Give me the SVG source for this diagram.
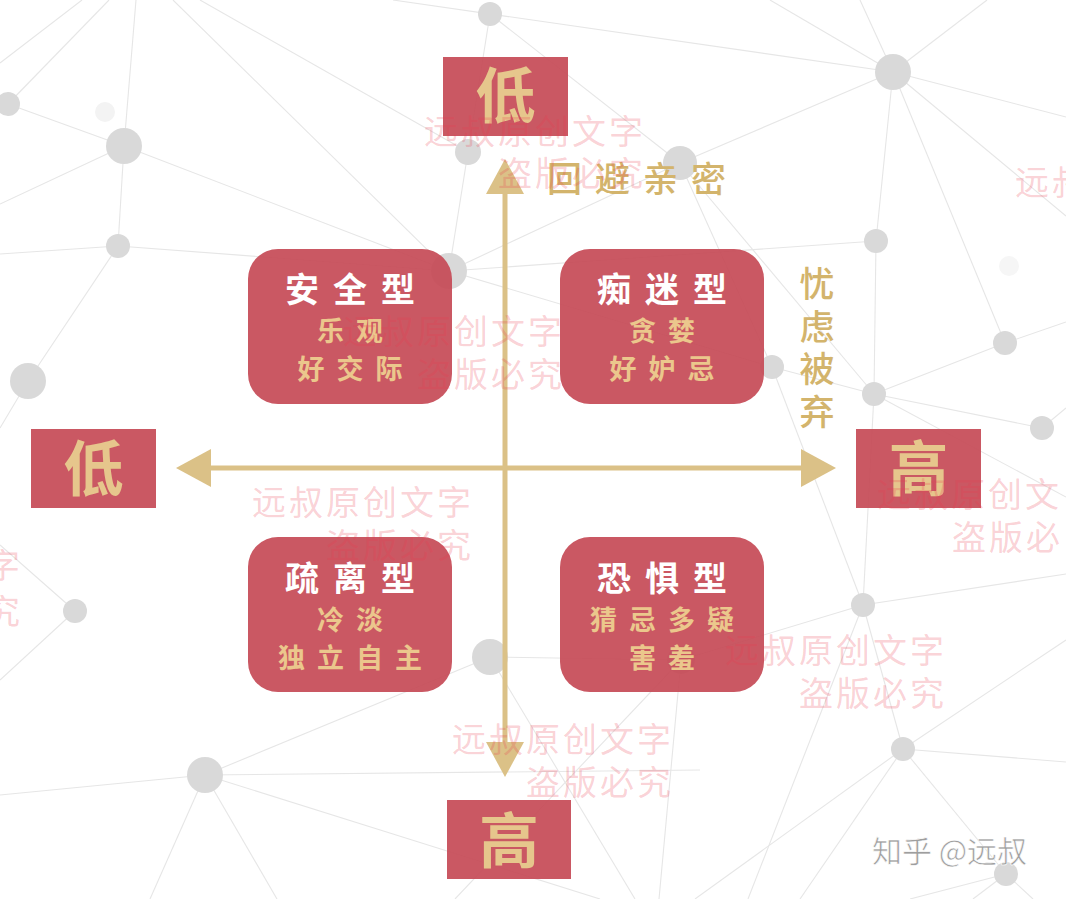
<svg xmlns="http://www.w3.org/2000/svg" width="1066" height="899" viewBox="0 0 1066 899">
<style>
.net line{stroke:#E6E6E6;stroke-width:1.1}
.dot{fill:#D9D9D9}
.box{fill:#C54A56;fill-opacity:0.92}
text{font-family:"Noto Sans CJK SC","Noto Sans CJK JP",sans-serif}
.t{font-size:34px;font-weight:700;fill:#FFFFFF;letter-spacing:14px;text-anchor:middle}
.s{font-size:27px;font-weight:700;fill:#EBC78C;letter-spacing:12px;text-anchor:middle}
.big{font-size:60px;font-weight:700;fill:#E6C68C;text-anchor:middle}
.axl{font-size:35px;font-weight:500;fill:#D3B46C}
.wm{font-size:34px;font-weight:400;fill:#EC3C50;fill-opacity:0.24;letter-spacing:3px;text-anchor:end}
.wms{font-size:34px;font-weight:400;fill:#EC3C50;fill-opacity:0.24;letter-spacing:3px}
.axis{stroke:#DBC187;stroke-width:5;fill:none}
</style>
<defs>
<marker id="arr" viewBox="0 0 35 38" refX="0" refY="19" markerWidth="35" markerHeight="38" markerUnits="userSpaceOnUse" orient="auto-start-reverse">
<path d="M0,0 L35,19 L0,38 Z" fill="#DBC187"/>
</marker>
</defs>
<rect width="1066" height="899" fill="#FFFFFF"/>
<g id="background-network" class="net">
<line x1="393" y1="0" x2="893" y2="72"/>
<line x1="490" y1="14" x2="468" y2="152"/>
<line x1="490" y1="14" x2="680" y2="163"/>
<line x1="770" y1="0" x2="893" y2="72"/>
<line x1="860" y1="0" x2="893" y2="72"/>
<line x1="987" y1="0" x2="893" y2="72"/>
<line x1="893" y1="72" x2="1066" y2="117"/>
<line x1="893" y1="72" x2="1066" y2="216"/>
<line x1="893" y1="72" x2="680" y2="163"/>
<line x1="893" y1="72" x2="876" y2="241"/>
<line x1="893" y1="72" x2="1005" y2="343"/>
<line x1="200" y1="0" x2="468" y2="152"/>
<line x1="173" y1="0" x2="449" y2="271"/>
<line x1="0" y1="63" x2="82" y2="0"/>
<line x1="8" y1="104" x2="109" y2="0"/>
<line x1="8" y1="104" x2="124" y2="146"/>
<line x1="136" y1="0" x2="124" y2="146"/>
<line x1="124" y1="146" x2="118" y2="246"/>
<line x1="124" y1="146" x2="0" y2="204"/>
<line x1="124" y1="146" x2="449" y2="271"/>
<line x1="118" y1="246" x2="0" y2="254"/>
<line x1="118" y1="246" x2="449" y2="271"/>
<line x1="118" y1="246" x2="28" y2="381"/>
<line x1="28" y1="381" x2="0" y2="428"/>
<line x1="468" y1="152" x2="449" y2="271"/>
<line x1="449" y1="271" x2="680" y2="163"/>
<line x1="449" y1="271" x2="876" y2="241"/>
<line x1="449" y1="271" x2="772" y2="367"/>
<line x1="772" y1="367" x2="874" y2="394"/>
<line x1="680" y1="163" x2="772" y2="367"/>
<line x1="680" y1="163" x2="874" y2="394"/>
<line x1="772" y1="367" x2="863" y2="605"/>
<line x1="876" y1="241" x2="874" y2="394"/>
<line x1="1005" y1="343" x2="874" y2="394"/>
<line x1="1005" y1="343" x2="1066" y2="322"/>
<line x1="874" y1="394" x2="1042" y2="428"/>
<line x1="1042" y1="428" x2="1066" y2="408"/>
<line x1="874" y1="394" x2="1066" y2="497"/>
<line x1="874" y1="394" x2="863" y2="605"/>
<line x1="863" y1="605" x2="1066" y2="574"/>
<line x1="863" y1="605" x2="681" y2="660"/>
<line x1="681" y1="660" x2="490" y2="657"/>
<line x1="863" y1="605" x2="903" y2="749"/>
<line x1="863" y1="605" x2="748" y2="899"/>
<line x1="903" y1="749" x2="1066" y2="762"/>
<line x1="903" y1="749" x2="1066" y2="640"/>
<line x1="903" y1="749" x2="1006" y2="874"/>
<line x1="903" y1="749" x2="800" y2="899"/>
<line x1="903" y1="749" x2="695" y2="899"/>
<line x1="1006" y1="874" x2="910" y2="899"/>
<line x1="1006" y1="874" x2="973" y2="899"/>
<line x1="1006" y1="874" x2="1033" y2="899"/>
<line x1="681" y1="660" x2="659" y2="899"/>
<line x1="681" y1="660" x2="455" y2="899"/>
<line x1="490" y1="657" x2="635" y2="899"/>
<line x1="75" y1="611" x2="0" y2="545"/>
<line x1="75" y1="611" x2="0" y2="680"/>
<line x1="205" y1="775" x2="0" y2="795"/>
<line x1="205" y1="775" x2="490" y2="657"/>
<line x1="205" y1="775" x2="700" y2="770"/>
<line x1="205" y1="775" x2="600" y2="899"/>
<line x1="205" y1="775" x2="150" y2="899"/>
<line x1="205" y1="775" x2="277" y2="899"/>
<circle cx="105" cy="112" r="10" fill="#F3F3F3"/>
<circle cx="1009" cy="266" r="10" fill="#F6F6F6"/>
<circle class="dot" cx="490" cy="14" r="12"/>
<circle class="dot" cx="893" cy="72" r="18"/>
<circle class="dot" cx="8" cy="104" r="12"/>
<circle class="dot" cx="124" cy="146" r="18"/>
<circle class="dot" cx="118" cy="246" r="12"/>
<circle class="dot" cx="28" cy="381" r="18"/>
<circle class="dot" cx="468" cy="152" r="13"/>
<circle class="dot" cx="449" cy="271" r="18"/>
<circle class="dot" cx="680" cy="163" r="17"/>
<circle class="dot" cx="876" cy="241" r="12"/>
<circle class="dot" cx="1005" cy="343" r="12"/>
<circle class="dot" cx="874" cy="394" r="12"/>
<circle class="dot" cx="1042" cy="428" r="12"/>
<circle class="dot" cx="772" cy="367" r="12"/>
<circle class="dot" cx="75" cy="611" r="12"/>
<circle class="dot" cx="205" cy="775" r="18"/>
<circle class="dot" cx="490" cy="657" r="18"/>
<circle class="dot" cx="863" cy="605" r="12"/>
<circle class="dot" cx="903" cy="749" r="12"/>
<circle class="dot" cx="1006" cy="874" r="12"/>
<circle class="dot" cx="681" cy="660" r="14"/>
</g>
<g id="connectors">
<line class="axis" x1="505" y1="194" x2="505" y2="742" marker-start="url(#arr)" marker-end="url(#arr)"/>
<line class="axis" x1="211" y1="468" x2="801" y2="468" marker-start="url(#arr)" marker-end="url(#arr)"/>
</g>
<g id="axis-top-low">
<rect class="box" x="443" y="57" width="125" height="79"/>
<text class="big" x="505.5" y="118">低</text>
</g>
<g id="axis-bottom-high">
<rect class="box" x="447" y="800" width="124" height="79"/>
<text class="big" x="509" y="863">高</text>
</g>
<g id="axis-left-low">
<rect class="box" x="31" y="429" width="125" height="79"/>
<text class="big" x="93.5" y="491">低</text>
</g>
<g id="axis-right-high">
<rect class="box" x="856" y="429" width="125" height="79"/>
<text class="big" x="918.5" y="491">高</text>
</g>
<g id="label-avoidance">
<text class="axl" x="547" y="192" letter-spacing="13">回避亲密</text>
</g>
<g id="label-anxiety">
<text class="axl" x="817" y="297" text-anchor="middle" font-size="36">忧</text>
<text class="axl" x="817" y="340" text-anchor="middle" font-size="36">虑</text>
<text class="axl" x="817" y="382" text-anchor="middle" font-size="36">被</text>
<text class="axl" x="817" y="425" text-anchor="middle" font-size="36">弃</text>
</g>
<g id="secure">
<rect class="box" x="248" y="249" width="204" height="155" rx="30"/>
<text class="t" x="357" y="302">安全型</text>
<text class="s" x="356" y="341">乐观</text>
<text class="s" x="356" y="379">好交际</text>
</g>
<g id="preoccupied">
<rect class="box" x="560" y="249" width="204" height="155" rx="30"/>
<text class="t" x="669" y="302">痴迷型</text>
<text class="s" x="668" y="341">贪婪</text>
<text class="s" x="668" y="379">好妒忌</text>
</g>
<g id="dismissive">
<rect class="box" x="248" y="537" width="204" height="155" rx="30"/>
<text class="t" x="357" y="591">疏离型</text>
<text class="s" x="356" y="630">冷淡</text>
<text class="s" x="356" y="668">独立自主</text>
</g>
<g id="fearful">
<rect class="box" x="560" y="537" width="204" height="155" rx="30"/>
<text class="t" x="669" y="591">恐惧型</text>
<text class="s" x="668" y="630">猜忌多疑</text>
<text class="s" x="668" y="668">害羞</text>
</g>
<g id="watermarks">
<text class="wm" x="646" y="144">远叔原创文字</text>
<text class="wm" x="646" y="186">盗版必究</text>
<text class="wm" x="565" y="344">远叔原创文字</text>
<text class="wm" x="565" y="387">盗版必究</text>
<text class="wms" x="1015" y="195">远叔</text>
<text class="wm" x="474" y="515">远叔原创文字</text>
<text class="wm" x="474" y="558">盗版必究</text>
<text class="wm" x="23" y="578">字</text>
<text class="wm" x="23" y="624">究</text>
<text class="wms" x="877" y="507">远叔原创文</text>
<text class="wms" x="952" y="550">盗版必</text>
<text class="wm" x="947" y="663">远叔原创文字</text>
<text class="wm" x="947" y="706">盗版必究</text>
<text class="wm" x="674" y="752">远叔原创文字</text>
<text class="wm" x="674" y="795">盗版必究</text>
<text x="872" y="862" font-size="30" fill="#9E9E9E" stroke="#FFFFFF" stroke-width="0.6">知乎 @远叔</text>
</g>
</svg>
